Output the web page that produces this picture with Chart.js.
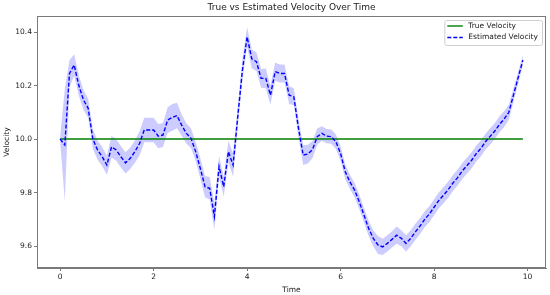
<!DOCTYPE html>
<html>
<head>
<meta charset="utf-8">
<script src="https://cdn.jsdelivr.net/npm/chart.js@4.4.0/dist/chart.umd.min.js"></script>
<style>
  html, body { margin: 0; padding: 0; background: #ffffff; }
  #wrap { width: 550px; height: 295px; }
</style>
</head>
<body>
<div id="wrap"><canvas id="c" width="550" height="295"></canvas></div>
<script>
// ---- data ----
const chartTitle = 'True vs Estimated Velocity Over Time';
const xLabel = 'Time';
const yLabel = 'Velocity';
const trueLabel = 'True Velocity';
const estLabel = 'Estimated Velocity';

const times = [
  0.0, 0.1, 0.2, 0.3, 0.4, 0.5, 0.6, 0.7, 0.8, 0.9,
  1.0, 1.1, 1.2, 1.3, 1.4, 1.5, 1.6, 1.7, 1.8, 1.9,
  2.0, 2.1, 2.2, 2.3, 2.4, 2.5, 2.6, 2.7, 2.8, 2.9,
  3.0, 3.1, 3.2, 3.3, 3.4, 3.5, 3.6, 3.7, 3.8, 3.9,
  4.0, 4.1, 4.2, 4.3, 4.4, 4.5, 4.6, 4.7, 4.8, 4.9,
  5.0, 5.1, 5.2, 5.3, 5.4, 5.5, 5.6, 5.7, 5.8, 5.9,
  6.0, 6.1, 6.2, 6.3, 6.4, 6.5, 6.6, 6.7, 6.8, 6.9,
  7.0, 7.1, 7.2, 7.3, 7.4, 7.5, 7.6, 7.7, 7.8, 7.9,
  8.0, 8.1, 8.2, 8.3, 8.4, 8.5, 8.6, 8.7, 8.8, 8.9,
  9.0, 9.1, 9.2, 9.3, 9.4, 9.5, 9.6, 9.7, 9.8, 9.9
];

const trueVelocity = 10.0;

const estimatedVelocity = [
  10.000, 9.978, 10.245, 10.277, 10.200, 10.146, 10.115, 10.000, 9.959, 9.934,
  9.903, 9.971, 9.959, 9.934, 9.911, 9.928, 9.953, 9.984, 10.034, 10.034,
  10.034, 10.011, 10.015, 10.071, 10.081, 10.088, 10.052, 10.021, 10.003, 9.953,
  9.890, 9.822, 9.816, 9.710, 9.897, 9.822, 9.953, 9.903, 10.083, 10.258,
  10.382, 10.300, 10.289, 10.227, 10.227, 10.164, 10.252, 10.245, 10.245, 10.164,
  10.158, 10.040, 9.940, 9.944, 9.961, 10.009, 10.021, 10.011, 10.009, 9.990,
  9.946, 9.878, 9.840, 9.809, 9.766, 9.716, 9.666, 9.629, 9.604, 9.597,
  9.610, 9.625, 9.641, 9.629, 9.610, 9.629, 9.653, 9.675, 9.700, 9.720,
  9.745, 9.770, 9.790, 9.810, 9.835, 9.855, 9.880, 9.900, 9.920, 9.945,
  9.965, 9.990, 10.010, 10.030, 10.055, 10.075, 10.100, 10.165, 10.230, 10.295
];

const estimateStd = [
  0.010, 0.210, 0.050, 0.040, 0.038, 0.036, 0.036, 0.036, 0.036, 0.036,
  0.036, 0.040, 0.040, 0.040, 0.040, 0.040, 0.042, 0.045, 0.046, 0.046,
  0.046, 0.045, 0.045, 0.048, 0.050, 0.048, 0.040, 0.038, 0.036, 0.036,
  0.038, 0.040, 0.042, 0.050, 0.040, 0.037, 0.040, 0.044, 0.040, 0.038,
  0.037, 0.035, 0.035, 0.035, 0.037, 0.036, 0.034, 0.034, 0.034, 0.033,
  0.032, 0.034, 0.037, 0.035, 0.032, 0.030, 0.027, 0.027, 0.027, 0.027,
  0.027, 0.027, 0.027, 0.027, 0.027, 0.027, 0.028, 0.030, 0.034, 0.030,
  0.030, 0.030, 0.032, 0.030, 0.030, 0.030, 0.030, 0.030, 0.030, 0.030,
  0.030, 0.030, 0.030, 0.030, 0.030, 0.030, 0.030, 0.030, 0.030, 0.030,
  0.030, 0.030, 0.030, 0.030, 0.030, 0.030, 0.028, 0.025, 0.022, 0.020
];

const xTicks = [0, 2, 4, 6, 8, 10];
const yTicks = [9.6, 9.8, 10.0, 10.2, 10.4];
const xRange = [-0.495, 10.395];
const yRange = [9.518, 10.46];

// ---- styles ----
const FONT = 'DejaVu Sans';
const TEXT = '#1a1a1a';
const AXIS = '#7a7a7a';
const GREEN = '#008000';
const BLUE = '#0000ff';
const BAND = 'rgba(0,0,255,0.2)';

const truePts = times.map(t => ({ x: t, y: trueVelocity }));
const estPts = times.map((t, i) => ({ x: t, y: estimatedVelocity[i] }));
const upperPts = times.map((t, i) => ({ x: t, y: estimatedVelocity[i] + estimateStd[i] }));
const lowerPts = times.map((t, i) => ({ x: t, y: estimatedVelocity[i] - estimateStd[i] }));

const framePlugin = {
  id: 'frameAndText',
  afterDatasetsDraw(chart) {
    const { ctx, chartArea: a } = chart;
    ctx.save();
    ctx.strokeStyle = AXIS;
    ctx.lineWidth = 1;
    ctx.strokeRect(Math.round(a.left) + 0.5, Math.round(a.top) + 0.5,
                   Math.round(a.right - a.left) - 1, Math.round(a.bottom - a.top) - 1);
    ctx.restore();
  },
  afterDraw(chart) {
    const { ctx, chartArea: a } = chart;
    ctx.save();
    // title
    ctx.fillStyle = TEXT;
    ctx.font = '9px "' + FONT + '"';
    ctx.textAlign = 'center';
    ctx.textBaseline = 'middle';
    ctx.fillText(chartTitle, (a.left + a.right) / 2, 8);

    // legend
    ctx.font = '7.5px "' + FONT + '"';
    const w1 = ctx.measureText(trueLabel).width;
    const w2 = ctx.measureText(estLabel).width;
    const tw = Math.max(w1, w2);
    const padL = 3, lineLen = 15.5, gap = 5.5, padR = 4;
    const bw = padL + lineLen + gap + tw + padR;
    const bh = 25;
    const bx = a.right - 4 - bw;
    const by = a.top + 4;
    ctx.fillStyle = 'rgba(255,255,255,0.85)';
    ctx.strokeStyle = '#d0d0d0';
    ctx.lineWidth = 1;
    ctx.beginPath();
    if (ctx.roundRect) ctx.roundRect(bx + 0.5, by + 0.5, bw, bh, 2);
    else ctx.rect(bx + 0.5, by + 0.5, bw, bh);
    ctx.fill();
    ctx.stroke();

    const rows = [
      { label: trueLabel, color: GREEN, dash: [], y: by + 6 },
      { label: estLabel, color: BLUE, dash: [4, 2], y: by + 17.5 }
    ];
    rows.forEach(r => {
      ctx.beginPath();
      ctx.setLineDash(r.dash);
      ctx.strokeStyle = r.color;
      ctx.lineWidth = 1.4;
      ctx.moveTo(bx + padL, r.y);
      ctx.lineTo(bx + padL + lineLen, r.y);
      ctx.stroke();
      ctx.setLineDash([]);
      ctx.fillStyle = TEXT;
      ctx.textAlign = 'left';
      ctx.textBaseline = 'middle';
      ctx.fillText(r.label, bx + padL + lineLen + gap, r.y);
    });
    ctx.restore();
  }
};

const ctx = document.getElementById('c').getContext('2d');
new Chart(ctx, {
  type: 'line',
  data: {
    datasets: [
      { label: trueLabel, data: truePts, borderColor: GREEN, borderWidth: 1.4,
        pointRadius: 0, fill: false, order: 2, tension: 0 },
      { label: estLabel, data: estPts, borderColor: BLUE, borderWidth: 1.4,
        borderDash: [4, 2], pointRadius: 0, fill: false, order: 1, tension: 0 },
      { label: 'upper', data: upperPts, borderWidth: 0, borderColor: 'rgba(0,0,0,0)',
        backgroundColor: BAND, pointRadius: 0, fill: '+1', order: 3, tension: 0 },
      { label: 'lower', data: lowerPts, borderWidth: 0, borderColor: 'rgba(0,0,0,0)',
        pointRadius: 0, fill: false, order: 3, tension: 0 }
    ]
  },
  options: {
    responsive: false,
    animation: false,
    devicePixelRatio: 1,
    layout: { padding: { top: 16, right: 4, bottom: 0, left: 0 } },
    plugins: {
      legend: { display: false },
      title: { display: false },
      tooltip: { enabled: false }
    },
    scales: {
      x: {
        type: 'linear',
        min: xRange[0], max: xRange[1],
        afterBuildTicks(scale) { scale.ticks = xTicks.map(v => ({ value: v })); },
        afterFit(scale) { scale.height = 27; },
        ticks: {
          color: TEXT, font: { family: FONT, size: 7.5 }, padding: 2,
          maxRotation: 0, autoSkip: false,
          callback: v => String(v)
        },
        grid: { drawOnChartArea: false, drawTicks: true, tickLength: 3, color: AXIS },
        border: { display: true, color: AXIS },
        title: { display: true, text: xLabel, color: TEXT,
                 font: { family: FONT, size: 7.5 }, padding: { top: 3, bottom: 0 } }
      },
      y: {
        type: 'linear',
        min: yRange[0], max: yRange[1],
        afterBuildTicks(scale) { scale.ticks = yTicks.map(v => ({ value: v })); },
        afterFit(scale) { scale.width = 37; },
        ticks: {
          color: TEXT, font: { family: FONT, size: 7.5 }, padding: 2, autoSkip: false,
          callback: v => Number(v).toFixed(1)
        },
        grid: { drawOnChartArea: false, drawTicks: true, tickLength: 3, color: AXIS },
        border: { display: true, color: AXIS },
        title: { display: true, text: yLabel, color: TEXT,
                 font: { family: FONT, size: 7.5 }, padding: { top: 3, bottom: 0 } }
      }
    }
  },
  plugins: [framePlugin]
});
</script>
</body>
</html>
